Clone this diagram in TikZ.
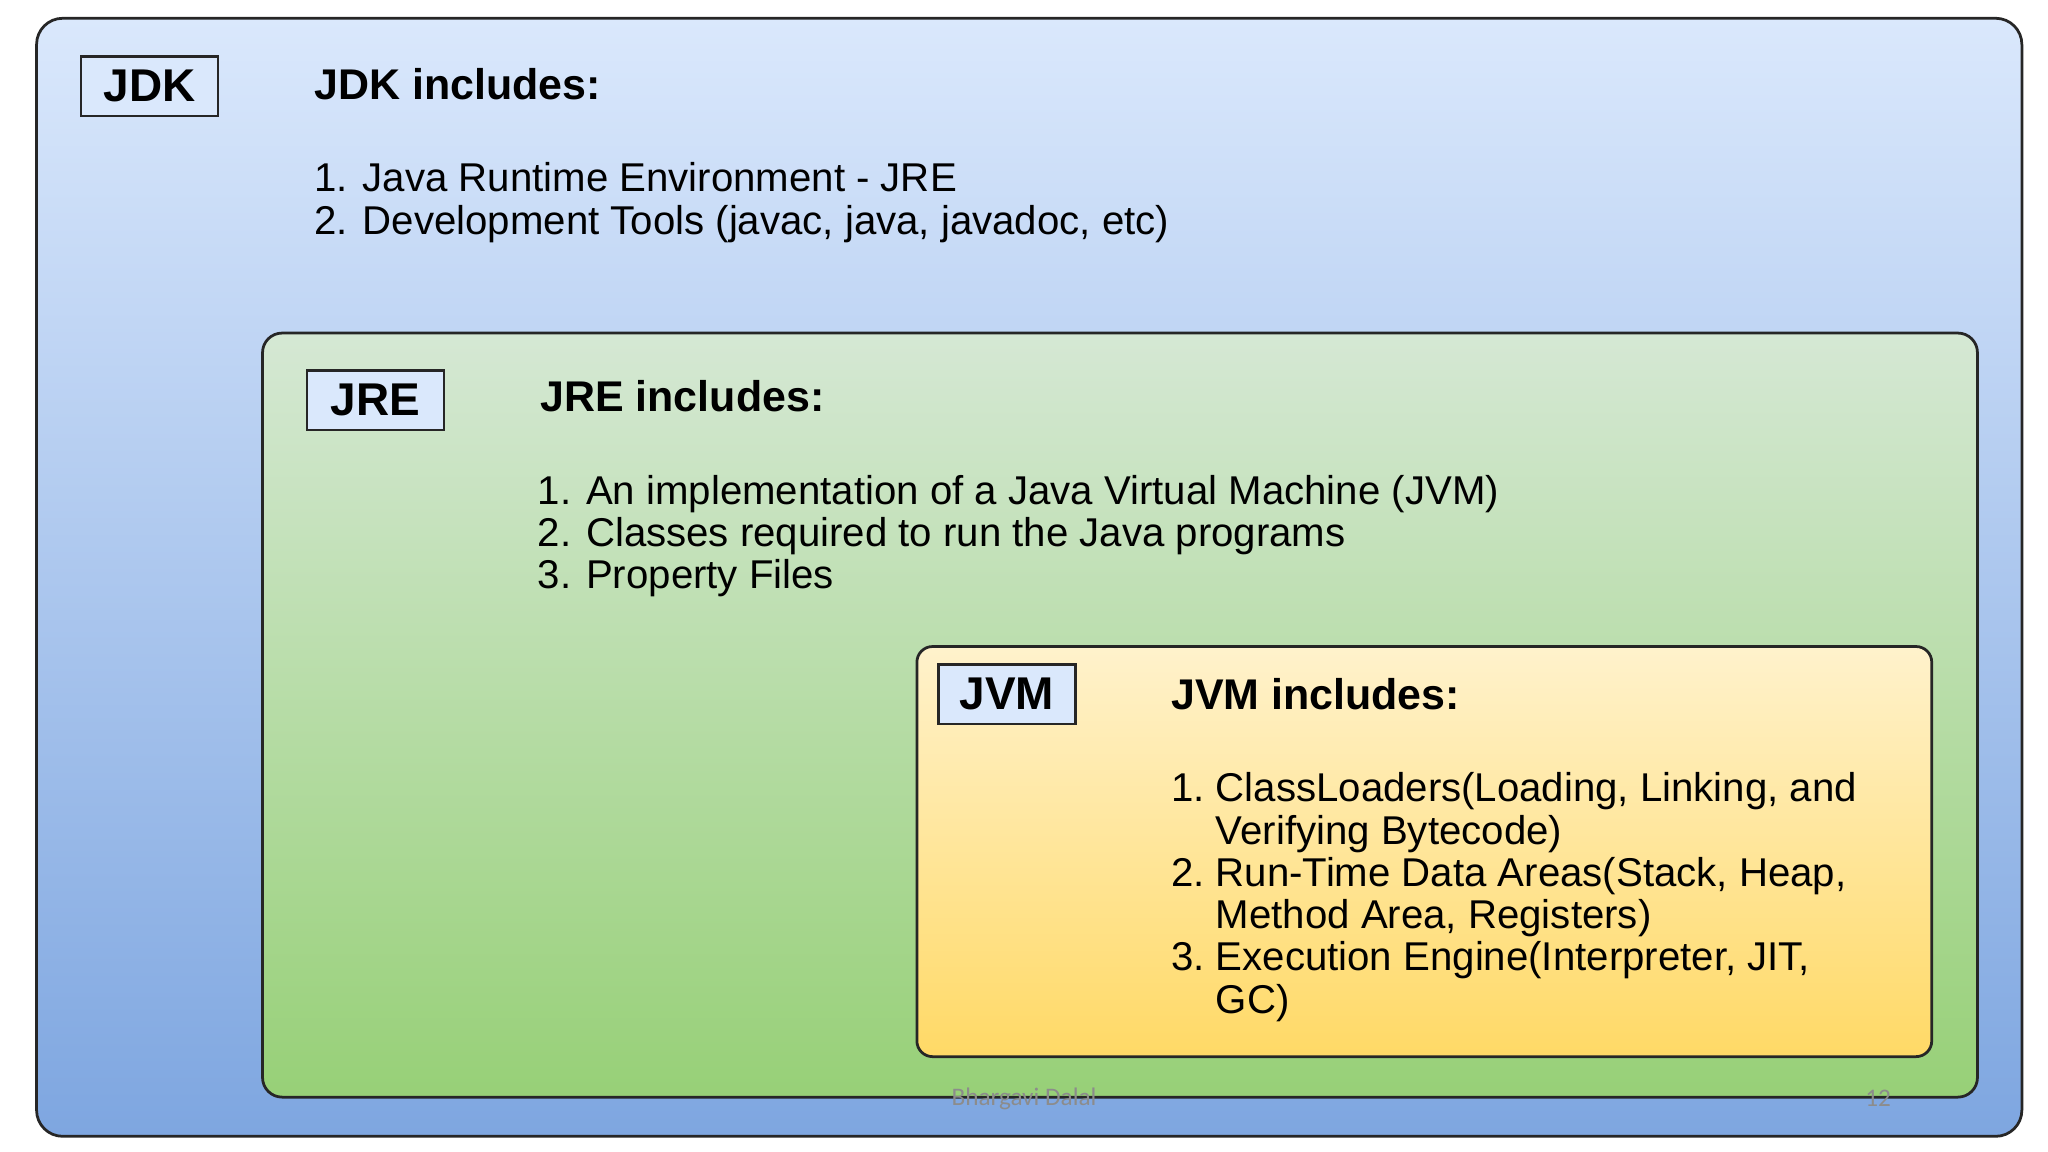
\documentclass[tikz,border=0pt]{standalone}
\usepackage{fontspec}
\setmainfont{Liberation Sans}
\newfontfamily\footfont{Carlito}
\usetikzlibrary{positioning}
\usepackage{xcolor}

\definecolor{jdkTop}{HTML}{DAE8FC}
\definecolor{jdkBot}{HTML}{7EA6E0}
\definecolor{jreTop}{HTML}{D5E8D4}
\definecolor{jreBot}{HTML}{97D077}
\definecolor{jvmTop}{HTML}{FFF2CC}
\definecolor{jvmBot}{HTML}{FFD966}
\definecolor{tagFill}{HTML}{DAE8FC}

\begin{document}
\begin{tikzpicture}[
    x=0.01cm, y=-0.01cm,
    frame/.style={draw=black!85, line width=0.6pt},
    tag/.style={draw=black!85, line width=0.5pt, fill=tagFill, inner sep=0pt,
      minimum width=1.05cm, minimum height=0.455cm,
      font=\bfseries\fontsize{10}{12}\selectfont},
    head/.style={anchor=base west, inner sep=0pt, font=\bfseries\fontsize{9.35}{11}\selectfont},
    items/.style={anchor=base west, inner sep=0pt, font=\fontsize{8.75}{9.2}\selectfont},
    foot/.style={font=\footfont\fontsize{5.5}{6}\selectfont, text=black!45},
]
\useasboundingbox (0, 0) rectangle (1568, 882);
% nested boxes
\draw[frame, rounded corners=0.2cm, top color=jdkTop, bottom color=jdkBot] (28, 14) rectangle (1548, 870);
\draw[frame, rounded corners=0.15cm, top color=jreTop, bottom color=jreBot] (201, 255) rectangle (1514, 840);
\draw[frame, rounded corners=0.12cm, top color=jvmTop, bottom color=jvmBot] (702, 495) rectangle (1479, 809);
% JDK
\node[tag] (jdkTag) at (114.5, 66) {JDK};
\node[head] (jdkHead) at (240, 76) {JDK includes:};
\node[items] (jdkList) at (240, 147) {\begin{tabular}[t]{@{}l@{}}
  1. Java Runtime Environment - JRE\\
  2. Development Tools (javac, java, javadoc, etc)
\end{tabular}};
% JRE
\node[tag] (jreTag) at (287.5, 306.5) {JRE};
\node[head] (jreHead) at (413, 315) {JRE includes:};
\node[items] (jreList) at (411, 386) {\begin{tabular}[t]{@{}l@{}}
  1. An implementation of a Java Virtual Machine (JVM)\\
  2. Classes required to run the Java programs\\
  3. Property Files
\end{tabular}};
% JVM
\node[tag] (jvmTag) at (771, 531.5) {JVM};
\node[head] (jvmHead) at (896, 543) {JVM includes:};
\node[items] (jvmList) at (896, 614) {\begin{tabular}[t]{@{}l@{\ }l@{}}
  1. & ClassLoaders(Loading, Linking, and\\
     & Verifying Bytecode)\\
  2. & Run-Time Data Areas(Stack, Heap,\\
     & Method Area, Registers)\\
  3. & Execution Engine(Interpreter, JIT,\\
     & GC)
\end{tabular}};
% footer
\node[foot] (author) at (784, 841) {Bhargavi Dalal};
\node[foot] (page) at (1438, 841) {12};
\end{tikzpicture}
\end{document}
